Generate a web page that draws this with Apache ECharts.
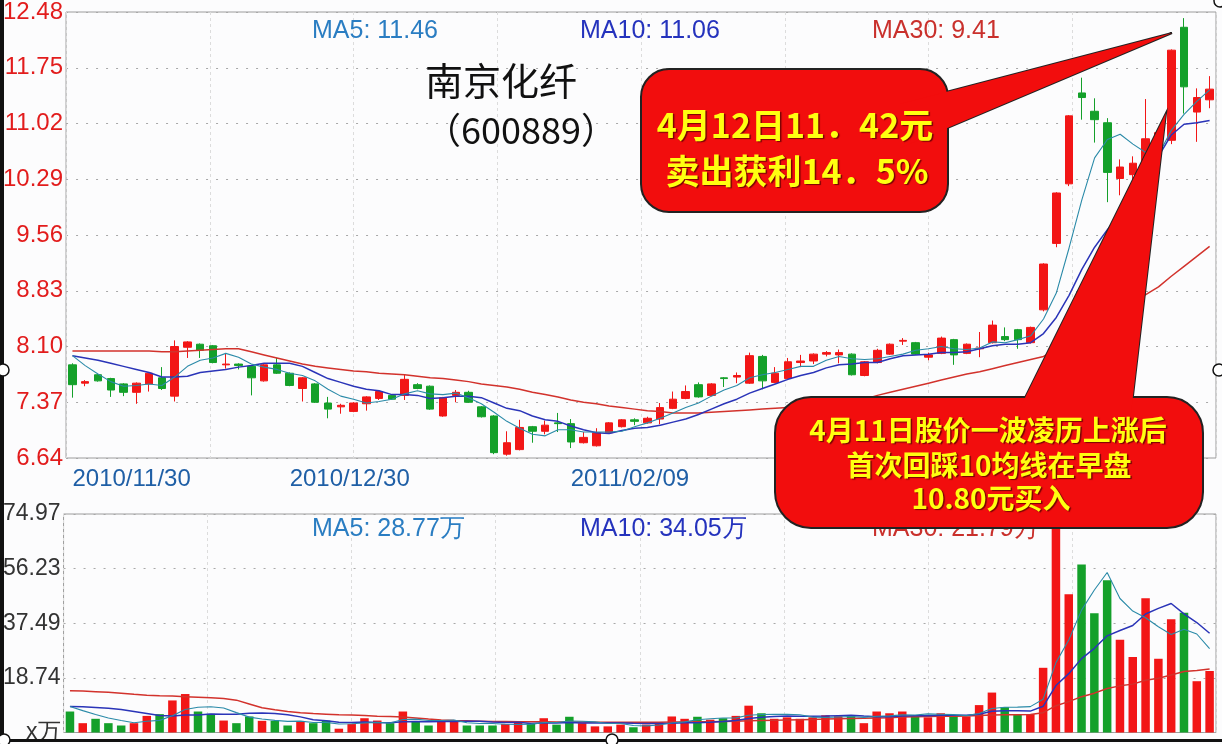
<!DOCTYPE html>
<html><head><meta charset="utf-8">
<script src="https://cdn.jsdelivr.net/npm/echarts@6/dist/echarts.min.js"></script>
<style>html,body{margin:0;padding:0;background:#fcfcfd;}#c{width:1222px;height:744px;}</style>
</head><body><div id="c"></div><script>
// ---------- data ----------
const opens  = [7.86,7.62,7.73,7.68,7.61,7.50,7.61,7.69,7.45,8.09, 8.13,8.11,7.86,7.87,7.84,7.65,7.86,7.75,7.55,7.61, 7.36,7.31,7.25,7.35,7.42,7.46,7.46,7.60,7.58,7.19, 7.46,7.50,7.31,7.19,6.69,6.75,7.05,6.99,7.10,7.09, 6.84,6.80,6.97,7.05,7.14,7.10,7.15,7.29,7.42,7.60, 7.46,7.69,7.70,7.62,7.97,7.63,7.68,7.89,7.91,8.00, 7.99,8.00,7.72,7.89,8.00,8.17,8.15,7.96,8.01,8.19, 8.01,8.07,8.15,8.23,8.32,8.15,8.58,9.45,10.23,11.42, 11.18,11.03,10.30,10.35,10.42,10.70,10.80,12.28,11.17,11.33];
const closes = [7.60,7.64,7.65,7.53,7.50,7.62,7.75,7.55,8.10,8.16, 8.05,7.89,7.87,7.85,7.69,7.86,7.75,7.59,7.69,7.37, 7.28,7.33,7.36,7.44,7.51,7.41,7.67,7.55,7.28,7.43, 7.50,7.37,7.18,6.71,6.84,7.04,6.99,7.07,7.09,6.85, 6.91,6.97,7.10,7.14,7.12,7.16,7.30,7.41,7.51,7.44, 7.61,7.68,7.72,7.98,7.65,7.75,7.90,7.91,8.00,8.02, 8.02,7.73,7.90,8.05,8.13,8.18,8.00,7.99,8.21,7.99, 8.13,8.08,8.38,8.19,8.19,8.35,9.18,10.11,11.12,11.36, 11.07,10.38,10.45,10.50,10.82,10.90,11.98,11.50,11.36,11.47];
const lows   = [7.43,7.58,7.64,7.44,7.45,7.35,7.51,7.53,7.38,7.95, 7.95,7.88,7.81,7.80,7.46,7.64,7.74,7.58,7.38,7.36, 7.16,7.22,7.24,7.26,7.40,7.40,7.40,7.54,7.27,7.18, 7.37,7.36,7.17,6.69,6.67,6.74,6.84,6.95,6.98,6.77, 6.83,6.79,6.96,7.04,7.07,7.09,7.08,7.28,7.41,7.43, 7.45,7.57,7.62,7.61,7.54,7.62,7.67,7.83,7.87,7.97, 7.88,7.72,7.71,7.88,7.99,8.12,7.99,7.92,8.00,7.86, 8.00,7.96,8.14,8.17,8.07,8.14,8.56,9.40,10.20,11.07, 10.77,9.99,10.08,10.25,10.40,10.62,10.75,11.15,10.78,11.22];
const highs  = [7.88,7.66,7.74,7.69,7.62,7.63,7.76,7.83,8.18,8.17, 8.14,8.12,8.01,7.88,7.85,7.87,7.95,7.76,7.70,7.62, 7.44,7.35,7.37,7.45,7.52,7.47,7.73,7.62,7.59,7.44, 7.53,7.52,7.32,7.20,6.99,7.14,7.06,7.13,7.23,7.15, 6.98,7.03,7.11,7.15,7.16,7.18,7.36,7.51,7.59,7.63, 7.62,7.70,7.76,8.02,7.99,7.83,7.95,7.99,8.01,8.04, 8.06,8.01,7.91,8.07,8.14,8.21,8.16,8.02,8.23,8.20, 8.14,8.29,8.44,8.35,8.33,8.36,9.19,10.12,11.13,11.62, 11.35,11.09,10.55,10.59,11.34,10.93,11.99,12.40,11.48,11.64];

const ma5  = [7.98,7.85,7.74,7.64,7.58,7.59,7.61,7.59,7.70,7.84, 7.92,7.95,8.01,7.96,7.87,7.83,7.80,7.75,7.72,7.65, 7.54,7.45,7.41,7.36,7.38,7.41,7.48,7.52,7.48,7.47, 7.49,7.43,7.35,7.24,7.12,7.03,6.95,6.93,7.01,7.01, 6.98,6.98,6.98,6.99,7.05,7.10,7.16,7.23,7.30,7.36, 7.45,7.53,7.59,7.69,7.73,7.76,7.80,7.84,7.84,7.92, 7.97,7.94,7.93,7.94,7.97,8.00,8.05,8.07,8.10,8.07, 8.06,8.08,8.16,8.15,8.19,8.24,8.46,8.80,9.39,10.02, 10.57,10.81,10.88,10.75,10.64,10.61,10.93,11.14,11.31,11.46];
const ma10 = [7.98,7.95,7.92,7.88,7.84,7.80,7.76,7.70,7.70,7.71, 7.76,7.78,7.80,7.83,7.85,7.88,7.88,7.88,7.84,7.76, 7.68,7.63,7.58,7.54,7.52,7.47,7.47,7.46,7.42,7.43, 7.45,7.45,7.43,7.36,7.29,7.26,7.19,7.14,7.12,7.06, 7.01,6.97,6.96,7.00,7.03,7.04,7.07,7.11,7.15,7.21, 7.28,7.35,7.41,7.49,7.55,7.61,7.67,7.72,7.76,7.82, 7.86,7.87,7.89,7.89,7.94,7.98,7.99,8.00,8.02,8.02, 8.03,8.07,8.11,8.13,8.13,8.15,8.27,8.48,8.77,9.11, 9.40,9.63,9.84,10.07,10.33,10.59,10.87,11.01,11.03,11.06];
const ma30 = [8.04,8.04,8.04,8.04,8.04,8.04,8.04,8.03,8.03,8.04, 8.05,8.06,8.07,8.07,8.03,7.99,7.95,7.91,7.87,7.84, 7.82,7.80,7.78,7.77,7.75,7.74,7.73,7.71,7.69,7.68, 7.66,7.64,7.61,7.59,7.57,7.54,7.50,7.47,7.44,7.40, 7.37,7.35,7.32,7.30,7.28,7.26,7.25,7.23,7.23,7.23, 7.24,7.25,7.26,7.27,7.28,7.29,7.30,7.31,7.32,7.34, 7.35,7.37,7.41,7.46,7.50,7.54,7.58,7.62,7.66,7.70, 7.74,7.77,7.81,7.85,7.89,7.93,7.97,8.06,8.18,8.30, 8.42,8.51,8.60,8.69,8.78,8.88,9.02,9.15,9.28,9.41];

const vols = [7.2,3.2,4.7,3.2,2.4,3.2,5.7,6.3,11.0,13.2, 7.2,6.4,4.1,3.2,5.5,4.0,4.0,2.4,3.6,3.2, 4.1,1.3,2.9,4.9,4.1,3.2,7.2,3.6,2.4,4.1, 4.1,2.4,2.4,2.4,2.9,3.5,3.2,4.9,2.7,5.4, 3.2,2.1,2.1,2.7,1.8,2.7,3.5,5.5,4.7,5.4, 4.4,4.9,5.7,9.2,6.6,4.7,5.2,4.7,5.2,5.9, 5.6,6.0,3.2,7.2,6.6,7.2,5.7,5.2,6.6,6.0, 5.5,9.4,13.7,8.7,6.3,6.3,22.2,76.4,47.4,57.6, 40.9,52.2,31.8,25.9,46.1,25.3,38.9,41.1,17.6,21.1];
const volMa5  = [8.9,7.5,6.2,5.0,4.14,3.34,3.84,4.16,5.72,7.88, 8.68,8.82,8.38,6.82,5.28,4.64,4.16,3.82,3.90,3.44, 3.46,2.92,3.02,3.28,3.46,3.28,4.46,4.60,4.10,4.10, 4.28,3.32,3.08,3.08,2.84,2.72,2.88,3.38,3.44,3.94, 3.88,3.66,3.10,3.10,2.38,2.28,2.56,3.24,3.64,4.36, 4.70,4.98,5.02,5.92,6.16,6.22,6.28,6.08,5.28,5.14, 5.32,5.48,5.18,5.58,5.72,6.04,5.98,6.38,6.26,6.14, 5.80,6.54,8.24,8.66,8.72,8.88,11.44,23.98,31.72,41.98, 48.90,54.90,45.98,41.68,39.38,36.26,33.60,35.46,33.80,28.77];
const volMa10 = [8.9,8.8,8.6,8.3,7.9,7.2,6.5,5.8,5.7,6.01, 6.01,6.33,6.27,6.27,6.58,6.66,6.49,6.10,5.36,4.36, 4.05,3.54,3.42,3.59,3.45,3.37,3.69,3.81,3.69,3.78, 3.78,3.89,3.84,3.59,3.47,3.50,3.10,3.23,3.26,3.39, 3.30,3.27,3.24,3.27,3.16,3.08,3.11,3.17,3.37,3.37, 3.49,3.77,4.13,4.78,5.26,5.46,5.63,5.55,5.60,5.65, 5.77,5.88,5.63,5.43,5.43,5.68,5.73,5.78,5.92,5.93, 5.92,6.26,7.31,7.46,7.43,7.34,8.99,16.11,20.19,25.35, 28.89,33.17,34.98,36.70,40.68,42.58,44.25,40.72,37.74,34.05];
const volMa30 = [14.3,14.2,14.0,13.8,13.5,13.1,12.8,12.6,12.5,12.3, 12.1,11.9,11.7,11.1,9.8,8.5,7.8,7.2,6.8,6.5, 6.3,6.1,6.0,5.8,5.6,5.5,5.3,5.0,4.6,4.3, 4.1,4.0,3.9,3.8,3.8,3.7,3.7,3.7,3.6,3.6, 3.6,3.5,3.5,3.5,3.5,3.5,3.5,3.6,3.6,3.7, 3.7,3.8,3.9,4.0,4.1,4.2,4.3,4.4,4.5,4.6, 4.7,4.8,4.9,5.0,5.1,5.3,5.4,5.5,5.6,5.6, 5.7,5.8,6.0,6.1,6.1,6.2,6.8,9.2,10.6,12.3, 13.5,15.1,16.0,16.6,17.9,18.6,19.7,20.9,21.3,21.79];

const xTicks = {0: '2010/11/30', 17: '2010/12/30', 39: '2011/02/09'};
const priceTicks = ['6.64','7.37','8.10','8.83','9.56','10.29','11.02','11.75','12.48'];
const volTicks = ['x万','18.74','37.49','56.23','74.97'];
const priceMaLabels = ['MA5: 11.46','MA10: 11.06','MA30: 9.41'];
const volMaLabels = ['MA5: 28.77万','MA10: 34.05万','MA30: 21.79万'];

// ---------- chart ----------
const categories = opens.map((_, i) => String(i));
const UP = '#f21616', DOWN = '#14a02a';
const C5 = '#2a8aa8', C10 = '#2a34b8', C30 = '#d2322c';
const L5 = '#2a7dc2', L10 = '#2533bd', L30 = '#c9302c';
const NUM = '"Liberation Sans", Arial, sans-serif';
const CJK = '"Noto Sans CJK SC", sans-serif';
const GL = 60, GW = 1156, T1 = 12, H1 = 446, T2 = 514, H2 = 221;

const chart = echarts.init(document.getElementById('c'));
const hiddenAxis = {show: false};
const vgrid = (gi) => ({type: 'value', gridIndex: gi, min: 0, max: 8, interval: 1,
  axisLabel: {show: false}, axisLine: {show: false}, axisTick: {show: false},
  splitLine: {show: true, lineStyle: {color: '#dcdcdc', width: 1, type: [3, 3]}}});

function mkText(text, x, y, font, fill, align) {
  return {type: 'text', z: 50, style: {text, x, y, font, fill, textAlign: align || 'left', textVerticalAlign: 'middle'}};
}
function calloutText(text, x, y, size) {
  return {type: 'text', z: 120, style: {text, x, y, font: 'bold ' + size + 'px ' + CJK, fill: '#ffff10',
    textAlign: 'center', textVerticalAlign: 'middle', textShadowColor: 'rgba(90,0,0,0.8)', textShadowOffsetX: 1.5, textShadowOffsetY: 1.5, textShadowBlur: 1}};
}
function callout(box, tip, z) {
  const red = '#f20d0d', edge = '#222';
  return [
    {type: 'polygon', z: z, shape: {points: tip}, style: {fill: red, stroke: edge, lineWidth: 2}},
    {type: 'rect', z: z + 1, shape: {x: box[0], y: box[1], width: box[2], height: box[3], r: box[4]}, style: {fill: red, stroke: edge, lineWidth: 2}},
    {type: 'polygon', z: z + 2, shape: {points: tip}, style: {fill: red}}
  ];
}

const option = {
  animation: false,
  backgroundColor: '#fcfcfd',
  grid: [
    {left: GL, top: T1, width: GW, height: H1, show: true, borderColor: '#9c9c9c', borderWidth: 1, backgroundColor: 'transparent'},
    {left: GL, top: T2, width: GW, height: H2, show: true, borderColor: '#9c9c9c', borderWidth: 1, backgroundColor: 'transparent'}
  ],
  xAxis: [
    {type: 'category', gridIndex: 0, data: categories, boundaryGap: true,
      axisLine: {show: false}, axisTick: {show: false}, splitLine: {show: false},
      axisLabel: {interval: (idx) => xTicks[idx] !== undefined, formatter: (v, idx) => xTicks[idx] || '',
        align: 'left', color: '#1f5fa6', fontSize: 24, fontFamily: NUM, margin: 9}},
    {type: 'category', gridIndex: 1, data: categories, boundaryGap: true,
      axisLine: {show: false}, axisTick: {show: false}, axisLabel: {show: false}, splitLine: {show: false}},
    vgrid(0), vgrid(1)
  ],
  yAxis: [
    {type: 'value', gridIndex: 0, min: 6.64, max: 12.48, show: false},
    {type: 'value', gridIndex: 0, min: 0, max: 8, interval: 1, position: 'left',
      axisLine: {show: false}, axisTick: {show: false},
      axisLabel: {formatter: (v) => priceTicks[v], color: '#e21c1c', fontSize: 24, fontFamily: NUM, margin: 3},
      splitLine: {show: true, lineStyle: {color: '#a8a8a8', type: [2, 8], width: 1}}},
    {type: 'value', gridIndex: 1, min: 0, max: 74.97, show: false},
    {type: 'value', gridIndex: 1, min: 0, max: 4, interval: 1, position: 'left',
      axisLine: {show: false}, axisTick: {show: false},
      axisLabel: {formatter: (v) => volTicks[v], color: '#333', fontSize: 23, fontFamily: NUM, margin: 3},
      splitLine: {show: true, lineStyle: {color: '#a8a8a8', type: [2, 8], width: 1}}}
  ],
  series: [
    {type: 'candlestick', xAxisIndex: 0, yAxisIndex: 0, barWidth: 8,
      data: opens.map((o, i) => [o, closes[i], lows[i], highs[i]]),
      itemStyle: {color: UP, color0: DOWN, borderColor: UP, borderColor0: DOWN, borderWidth: 1}},
    {type: 'line', xAxisIndex: 0, yAxisIndex: 0, data: ma30, symbol: 'none', lineStyle: {color: C30, width: 1.5}, z: 3},
    {type: 'line', xAxisIndex: 0, yAxisIndex: 0, data: ma10, symbol: 'none', lineStyle: {color: C10, width: 1.5}, z: 3},
    {type: 'line', xAxisIndex: 0, yAxisIndex: 0, data: ma5, symbol: 'none', lineStyle: {color: C5, width: 1.1}, z: 3},
    {type: 'bar', xAxisIndex: 1, yAxisIndex: 2, barWidth: 8.5, clip: true,
      data: vols.map((v, i) => ({value: v, itemStyle: {color: closes[i] >= opens[i] ? UP : DOWN}}))},
    {type: 'line', xAxisIndex: 1, yAxisIndex: 2, data: volMa30, symbol: 'none', lineStyle: {color: C30, width: 1.5}, z: 3},
    {type: 'line', xAxisIndex: 1, yAxisIndex: 2, data: volMa10, symbol: 'none', lineStyle: {color: C10, width: 1.5}, z: 3},
    {type: 'line', xAxisIndex: 1, yAxisIndex: 2, data: volMa5, symbol: 'none', lineStyle: {color: C5, width: 1.1}, z: 3}
  ],
  graphic: [
    mkText(priceMaLabels[0], 312, 31, '25px ' + NUM, L5),
    mkText(priceMaLabels[1], 580, 31, '25px ' + NUM, L10),
    mkText(priceMaLabels[2], 872, 31, '25px ' + NUM, L30),
    mkText(volMaLabels[0], 312, 529, '25px ' + NUM, L5),
    mkText(volMaLabels[1], 580, 529, '25px ' + NUM, L10),
    mkText(volMaLabels[2], 872, 529, '25px ' + NUM, L30),
    mkText('南京化纤', 425, 81, '38px ' + CJK, '#111'),
    mkText('（600889）', 425, 130, '36px ' + CJK, '#111'),
    ...callout([641, 69, 307, 143, 28], [[1172, 33], [900, 104], [900, 148]], 100),
    calloutText('4月12日11．42元', 795, 125, 34),
    calloutText('卖出获利14．5%', 797, 171, 34),
    ...callout([775, 397, 428, 131, 36], [[1166, 113], [1009, 430], [1129, 430]], 100),
    calloutText('4月11日股价一波凌历上涨后', 988, 430, 28),
    calloutText('首次回踩10均线在早盘', 989, 465, 28),
    calloutText('10.80元买入', 991, 498, 28),
    {type: 'rect', z: 200, shape: {x: 0, y: 0, width: 4, height: 744}, style: {fill: '#111'}},
    {type: 'rect', z: 200, shape: {x: 0, y: 739, width: 1222, height: 3}, style: {fill: '#111'}},
    {type: 'circle', z: 201, shape: {cx: 3, cy: 370, r: 6}, style: {fill: '#fff', stroke: '#111', lineWidth: 1.5}},
    {type: 'circle', z: 201, shape: {cx: 1219, cy: 370, r: 6}, style: {fill: '#fff', stroke: '#111', lineWidth: 1.5}},
    {type: 'circle', z: 201, shape: {cx: 612, cy: 740, r: 6}, style: {fill: '#fff', stroke: '#111', lineWidth: 1.5}},
    {type: 'circle', z: 201, shape: {cx: 4, cy: 740, r: 6}, style: {fill: '#fff', stroke: '#111', lineWidth: 1.5}},
    {type: 'circle', z: 201, shape: {cx: 1220, cy: 1, r: 6}, style: {fill: '#fff', stroke: '#111', lineWidth: 1.5}}
  ]
};
chart.setOption(option);
</script></body></html>
